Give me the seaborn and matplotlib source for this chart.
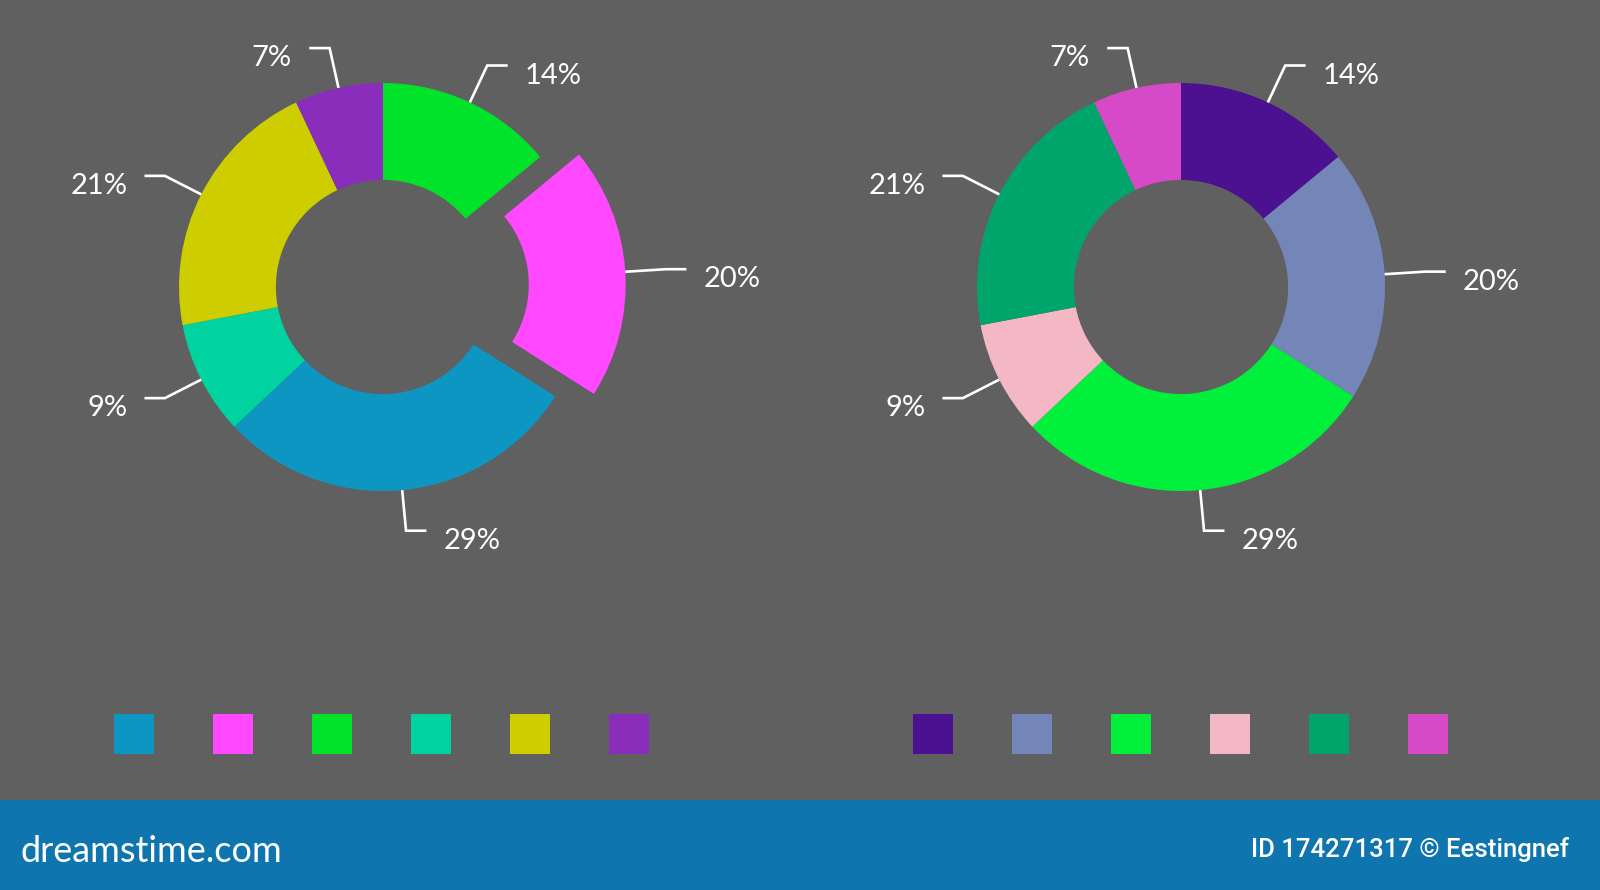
import numpy as np
import matplotlib.pyplot as plt
import seaborn as sns

# --- DANE ---
shares = [14, 20, 29, 9, 21, 7]
share_labels = ['14%', '20%', '29%', '9%', '21%', '7%']

left_colors = ['#00E32A', '#FF48FF', '#0E96C3', '#00D3A0', '#CDCD00', '#8B2DBB']
right_colors = ['#4B1190', '#7486B8', '#00F03C', '#F3B8C3', '#00A56C', '#D64AC8']

# kolejnosc kwadratow pod wykresami (tak jak na obrazku)
left_legend = ['#0E96C3', '#FF48FF', '#00E32A', '#00D3A0', '#CDCD00', '#8B2DBB']
right_legend = ['#4B1190', '#7486B8', '#00F03C', '#F3B8C3', '#00A56C', '#D64AC8']

footer_left = 'dreamstime.com'
footer_right = 'ID 174271317 \u00a9 Eestingnef'

# --- UKLAD / STYL ---
W, H = 1600, 890
BG = '#606060'
FOOTER = '#0F75AE'
R = 204            # promien w pikselach
HOLE = 0.525       # promien dziury / promien
ELBOW = 1.2        # zalamanie linii odnosnika
HLEN = 0.1         # dlugosc poziomego odcinka
EXPLODE_LEFT = [0, 0.19, 0, 0, 0, 0]

sns.set_theme(style="white")
plt.rcParams['font.family'] = ['Lato', 'DejaVu Sans']

fig = plt.figure(figsize=(W / 100, H / 100), dpi=100, facecolor=BG)
ax = fig.add_axes([0, 0, 1, 1])


def donut(cx, cy, colors, explode):
    ax.pie(shares, colors=colors, startangle=90, counterclock=False,
           center=(cx, cy), radius=R, explode=[e * R for e in explode],
           wedgeprops=dict(width=(1 - HOLE) * R, edgecolor='none', linewidth=0))
    start = 90.0
    for v, lab, e in zip(shares, share_labels, explode):
        mid = np.radians(start - v * 1.8)
        start -= v * 3.6
        c, s = np.cos(mid), np.sin(mid)
        ox, oy = cx + e * R * c, cy + e * R * s
        x0, y0 = ox + R * c, oy + R * s
        x1, y1 = ox + ELBOW * R * c, oy + ELBOW * R * s
        sgn = 1 if c >= 0 else -1
        x2 = x1 + sgn * HLEN * R
        ax.plot([x0, x1, x2], [y0, y1, y1], color='white', lw=1.9,
                solid_joinstyle='miter', solid_capstyle='butt')
        ax.text(x2 + sgn * 0.085 * R, y1 - 0.05 * R, lab, color='white',
                fontsize=21, ha='left' if sgn > 0 else 'right', va='center')


donut(383, H - 287, left_colors, EXPLODE_LEFT)
donut(1181, H - 287, right_colors, [0] * 6)

# kwadraty legendy
xs_left = [134 + 99 * i for i in range(len(left_legend))]
xs_right = [933 + 99 * i for i in range(len(right_legend))]
ax.bar(xs_left, 40, bottom=H - 754, width=40, color=left_legend, linewidth=0)
ax.bar(xs_right, 40, bottom=H - 754, width=40, color=right_legend, linewidth=0)

# pasek na dole
ax.axhspan(0, H - 800, color=FOOTER, lw=0)
ax.text(20, H - 852, footer_left, color='white', fontsize=26, ha='left',
        va='center', family=['Lato', 'DejaVu Sans'])
ax.text(1569, H - 850, footer_right, color='white', fontsize=18.5, ha='right',
        va='center', family=['Roboto', 'DejaVu Sans'], fontweight='medium')

ax.set_xlim(0, W)
ax.set_ylim(0, H)
ax.set_aspect('auto')
ax.axis('off')

plt.savefig('out.png', dpi=100, facecolor=BG)
